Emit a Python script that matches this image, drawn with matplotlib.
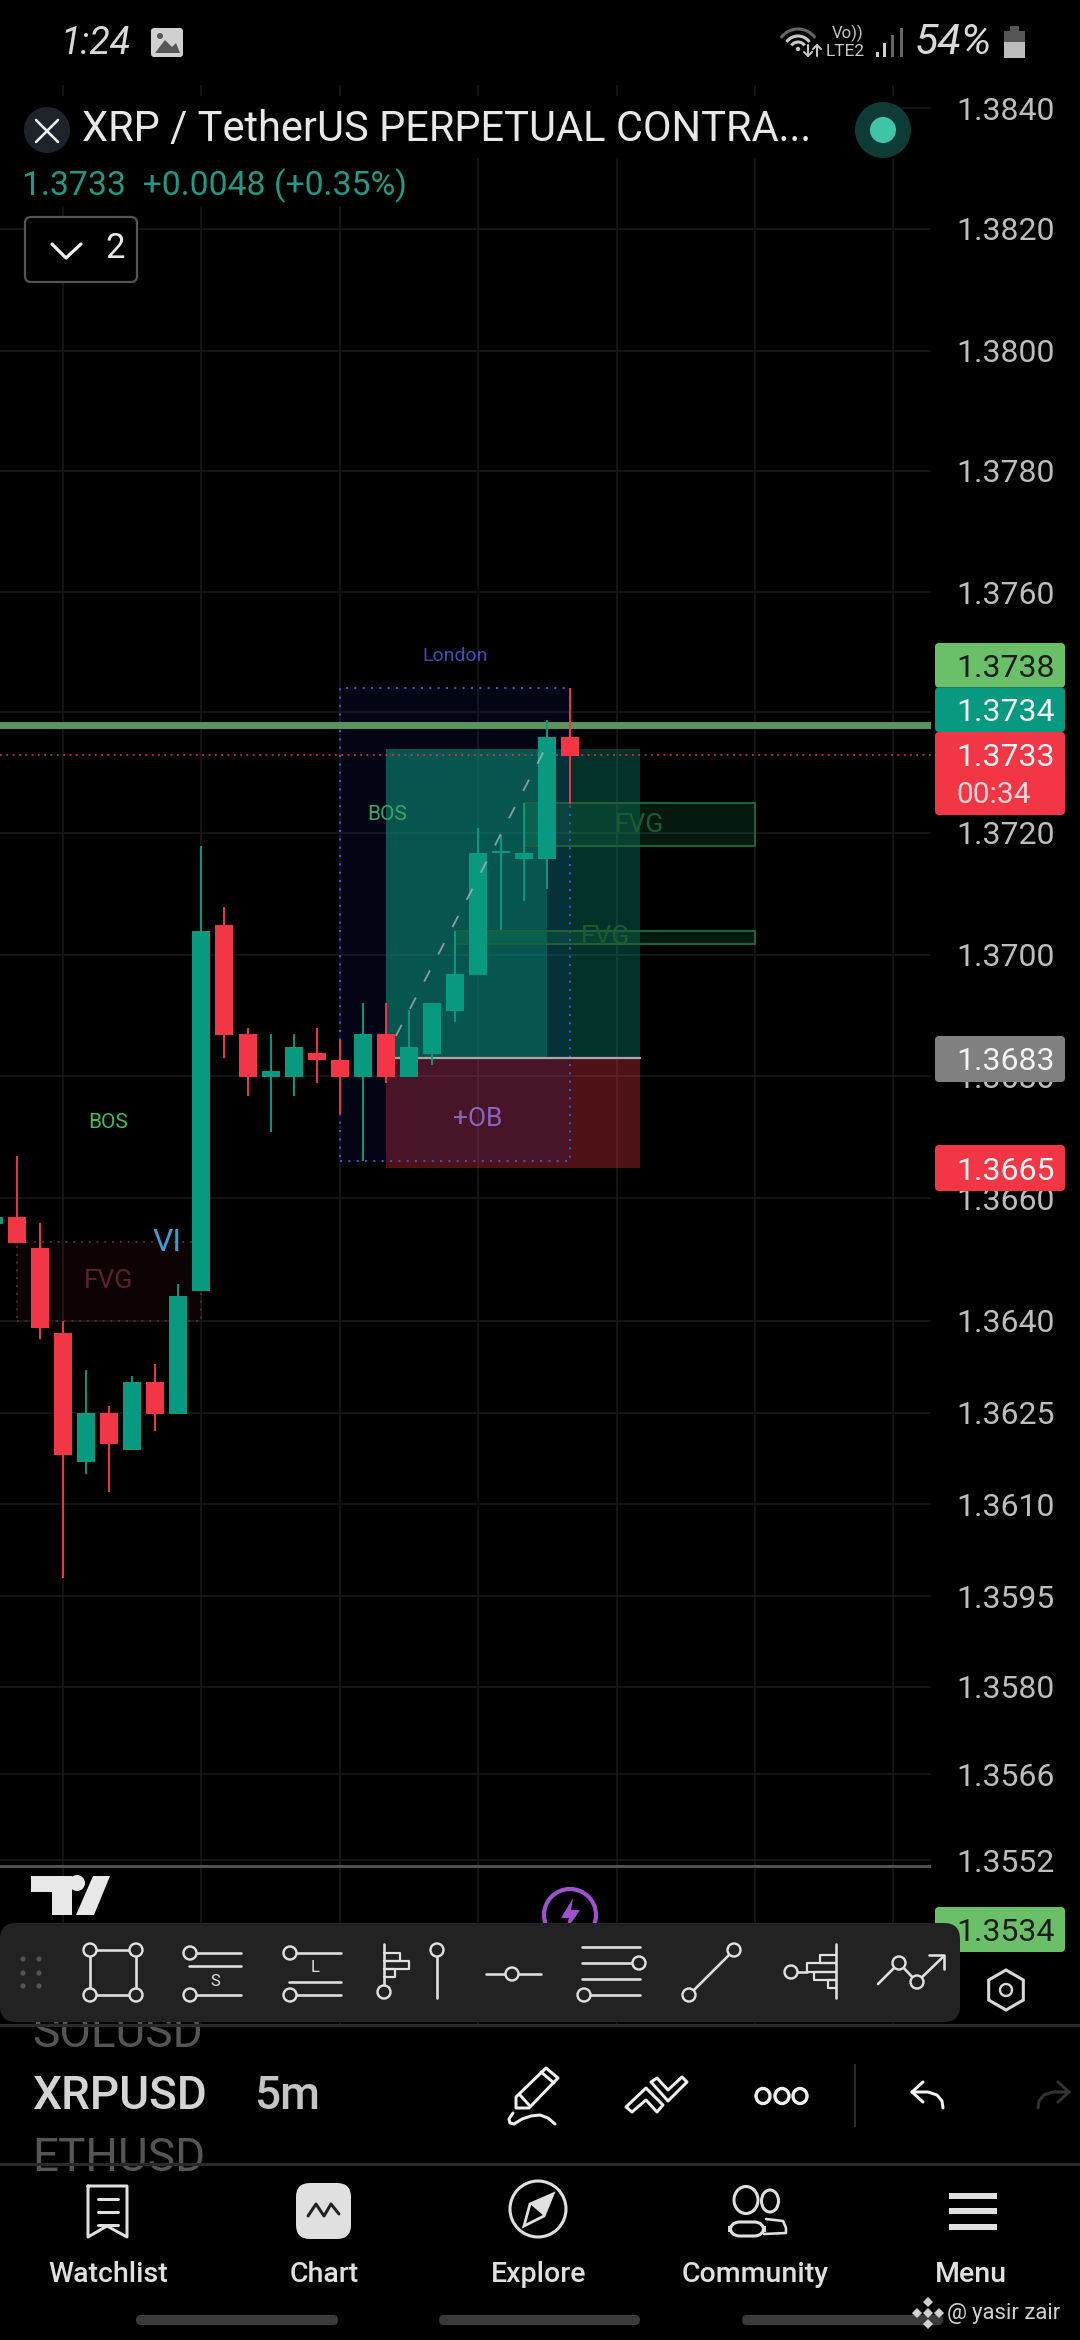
import numpy as np
import matplotlib
matplotlib.use('Agg')
from matplotlib import pyplot as plt
from matplotlib.patches import Rectangle, FancyBboxPatch, Circle, Ellipse, Polygon, Arc

plt.rcParams['font.family'] = ['Roboto', 'DejaVu Sans']

# candles, 5m, oldest first (x = bar number, bar 0 is the long red one)
bars = list(range(-3, 23))
opens = [1.36558, 1.36569, 1.36519, 1.36380, 1.36170, 1.36250, 1.36189, 1.36300, 1.36249,
         1.36449, 1.37049, 1.36869, 1.36798, 1.36798, 1.36838, 1.36826, 1.36798, 1.36869,
         1.36798, 1.36837, 1.36908, 1.36967, 1.37168, 1.37158, 1.37158, 1.37359]
highs = [1.36569, 1.36669, 1.36559, 1.36400, 1.36320, 1.36261, 1.36310, 1.36330, 1.36460,
         1.37179, 1.37079, 1.36880, 1.36869, 1.36869, 1.36880, 1.36860, 1.36920, 1.36920,
         1.36909, 1.36920, 1.37039, 1.37208, 1.37197, 1.37250, 1.37388, 1.37440]
lows = [1.36558, 1.36527, 1.36371, 1.35980, 1.36150, 1.36120, 1.36189, 1.36220, 1.36249,
        1.36449, 1.36829, 1.36768, 1.36708, 1.36768, 1.36789, 1.36737, 1.36661, 1.36789,
        1.36798, 1.36818, 1.36890, 1.36967, 1.37041, 1.37088, 1.37108, 1.37248]
closes = [1.36569, 1.36527, 1.36389, 1.36180, 1.36250, 1.36199, 1.36300, 1.36249, 1.36440,
          1.37039, 1.36868, 1.36798, 1.36808, 1.36848, 1.36827, 1.36798, 1.36869, 1.36798,
          1.36848, 1.36920, 1.36969, 1.37168, 1.37170, 1.37168, 1.37359, 1.37328]

tick_prices = [1.3840, 1.3820, 1.3800, 1.3780, 1.3760, 1.3740, 1.3720, 1.3700, 1.3680, 1.3660,
               1.3640, 1.3625, 1.3610, 1.3595, 1.3580, 1.3566, 1.3552]
# 1.3740 sits fully behind the price badges in the screenshot, so only its grid line shows
tick_labels = ['1.3840', '1.3820', '1.3800', '1.3780', '1.3760', '', '1.3720', '1.3700', '1.3680',
               '1.3660', '1.3640', '1.3625', '1.3610', '1.3595', '1.3580', '1.3566', '1.3552']
grid_bars = [0, 6, 12, 18, 24, 30, 36]

# price levels on the chart
entry_price = 1.3683
target_price = 1.3734
stop_price = 1.3665
green_level = 1.3738
last_price = 1.3733
london_low = 1.36661
london_high = 1.3744
fvg_up = (1.37178, 1.37249)
fvg_mid = (1.37018, 1.3704)
fvg_down = (1.3640, 1.36529)

# the screenshot's axis is not quite linear, so pin price to screen row at the labels
axis_prices = np.array([1.3551, 1.3552, 1.3566, 1.3580, 1.3595, 1.3610, 1.3625, 1.3640, 1.3660, 1.3680,
                        1.3700, 1.3720, 1.3760, 1.3780, 1.3800, 1.3820, 1.3840, 1.38438])
axis_rows = np.array([1866, 1860, 1774, 1687, 1596, 1504, 1413, 1321, 1198, 1076,
                      955, 833, 592, 471, 351, 229, 108, 85], dtype=float)

W, H = 1080, 2340
BG = '#000000'
TEAL = '#089981'
RED = '#f23645'
GRID = '#171717'
BAR = '#222222'

fig = plt.figure(figsize=(W / 100, H / 100), dpi=100, facecolor=BG)


def box(x0, y0, x1, y1):
    return [x0 / W, 1 - y1 / H, (x1 - x0) / W, (y1 - y0) / H]


ax = fig.add_axes(box(0, 85, 931, 1866), facecolor=BG)
ax.set_yscale('function', functions=(lambda p: np.interp(p, axis_prices, -axis_rows),
                                     lambda v: np.interp(v, -axis_rows, axis_prices)))
ax.set_xlim(-2.73, 37.63)
ax.set_ylim(axis_prices[0], axis_prices[-1])
ax.set_yticks(tick_prices, tick_labels)
ax.set_xticks(grid_bars)
ax.yaxis.tick_right()
ax.tick_params(axis='y', length=0, pad=18, labelsize=23, labelcolor='#bdbdbd')
ax.tick_params(axis='x', length=0, labelbottom=False)
ax.grid(True, color=GRID, lw=1.2, zorder=0)
ax.set_axisbelow(True)
for s in ax.spines.values():
    s.set_visible(False)

# lower pane under the chart, only the time grid shows
ax2 = fig.add_axes(box(0, 1866, 931, 2025), facecolor=BG, sharex=ax)
ax2.set_yticks([])
ax2.tick_params(axis='x', length=0, labelbottom=False)
ax2.grid(True, axis='x', color=GRID, lw=1.2)
for s in ax2.spines.values():
    s.set_visible(False)

# long position
ax.add_patch(Rectangle((14, entry_price), 11, target_price - entry_price, fc=TEAL, alpha=0.32, lw=0, zorder=1))
ax.add_patch(Rectangle((14, stop_price), 11, entry_price - stop_price, fc=RED, alpha=0.32, lw=0, zorder=1))

# london session box
ax.add_patch(Rectangle((12, london_low), 10, london_high - london_low, fc='#2138c8', alpha=0.1, lw=0, zorder=1.5))
ax.add_patch(Rectangle((12, london_low), 10, london_high - london_low, fc='none', ec='#4050d0', lw=1.5,
                       ls=(0, (1, 3)), zorder=1.6))

# part of the target already reached, sits over the session tint
ax.add_patch(Rectangle((14, entry_price), 7, target_price - entry_price, fc='#0aa07a', alpha=0.33, lw=0, zorder=1.65))
ax.plot([14, 25], [entry_price, entry_price], color='#a8a8a8', lw=1.6, zorder=2)
ax.plot([14.43, 20.85], [1.36866, 1.37336], color='#b8b8b8', lw=1.3, ls=(0, (7, 10)), alpha=0.75, zorder=4)

# fair value gaps
ax.add_patch(Rectangle((20, fvg_up[0]), 10, fvg_up[1] - fvg_up[0], fc='#22a05a', alpha=0.16, lw=0, zorder=1.7))
ax.add_patch(Rectangle((20, fvg_up[0]), 10, fvg_up[1] - fvg_up[0], fc='none', ec='#1d6039', lw=1.5, zorder=1.7))
ax.add_patch(Rectangle((17, fvg_mid[0]), 13, fvg_mid[1] - fvg_mid[0], fc='#22a05a', alpha=0.16, lw=0, zorder=1.7))
ax.add_patch(Rectangle((17, fvg_mid[0]), 13, fvg_mid[1] - fvg_mid[0], fc='none', ec='#1d6039', lw=1.5, zorder=1.7))
ax.add_patch(Rectangle((-2, fvg_down[0]), 8, fvg_down[1] - fvg_down[0], fc='#f23645', alpha=0.06, lw=0, zorder=1.7))
ax.add_patch(Rectangle((-2, fvg_down[0]), 8, fvg_down[1] - fvg_down[0], fc='none', ec='#5c2a2c', lw=1.4,
                       ls=(0, (1, 3)), zorder=1.7))

# levels
ax.axhline(green_level, color='#5b9460', lw=5, zorder=2.5)
ax.axhline(last_price, color=RED, lw=1.3, ls=(0, (1, 2.5)), alpha=0.85, zorder=2.5)

# candles
for i, o, h, l, c in zip(bars, opens, highs, lows, closes):
    col = TEAL if c >= o else RED
    ax.vlines(i, l, h, color=col, lw=1.4, zorder=3)
    ax.bar(i, abs(c - o), bottom=min(o, c), width=0.78, color=col, lw=0, zorder=3)

# labels on the chart
ax.text(17, 1.37493, 'London', color='#3f4fb5', fontsize=14, ha='center', va='center', zorder=5)
ax.text(14.04, 1.37231, 'BOS', color='#36a86a', fontsize=15, ha='center', va='center', zorder=5)
ax.text(1.95, 1.36723, 'BOS', color='#38c060', fontsize=15, ha='center', va='center', zorder=5)
ax.text(18, 1.3673, '+OB', color='#8a66c0', fontsize=19, ha='center', va='center', zorder=5)
ax.text(25, 1.37213, 'FVG', color='#1c5a34', fontsize=19, ha='center', va='center', zorder=5)
ax.text(23.5, 1.3703, 'FVG', color='#1c5a34', fontsize=19, ha='center', va='center', zorder=5)
ax.text(1.96, 1.36465, 'FVG', color='#5a2226', fontsize=19, ha='center', va='center', zorder=5)
ax.text(4.5, 1.36527, 'VI', color='#3d9fd0', fontsize=23, ha='center', va='center', zorder=5)

# screen furniture, everything below is in screen pixels
ui = fig.add_axes([0, 0, 1, 1], facecolor='none', zorder=5)
ui.set_xlim(0, W)
ui.set_ylim(H, 0)
ui.axis('off')
PX = 0.72


def rect(x0, y0, x1, y1, fc, z=2, **kw):
    ui.add_patch(Rectangle((x0, y0), x1 - x0, y1 - y0, fc=fc, lw=0, zorder=z, **kw))


def rounded(x0, y0, x1, y1, r, fc, z=2, ec='none', lw=0):
    ui.add_patch(FancyBboxPatch((x0 + r, y0 + r), x1 - x0 - 2 * r, y1 - y0 - 2 * r,
                                boxstyle='round,pad=%g,rounding_size=%g' % (r, r), fc=fc, ec=ec, lw=lw, zorder=z))


def line(xs, ys, c='#e0e0e0', w=2.6, z=6, **kw):
    ui.plot(xs, ys, color=c, lw=w * PX, zorder=z, solid_capstyle='round', solid_joinstyle='round', **kw)


def ring(x, y, r=6.5, c='#e0e0e0', w=2.4, fc=BAR, z=7):
    ui.add_patch(Circle((x, y), r, fc=fc, ec=c, lw=w * PX, zorder=z))


def outline(pts, c='#f0f0f0', w=3):
    ui.add_patch(Polygon(pts, fc='none', ec=c, lw=w * PX, joinstyle='round', zorder=6))


def label(x, y, s, c='#e0e0e0', size=20, ha='center', z=6, **kw):
    return ui.text(x, y, s, color=c, fontsize=size, ha=ha, va='center', zorder=z, **kw)


# title block hides the grid behind it
rect(0, 96, 900, 158, BG, z=1)
rect(10, 158, 412, 206, BG, z=1)
ui.add_patch(Circle((47, 130), 23, fc='#1e222a', lw=0, zorder=3))
line([36, 58], [120, 142], c='#f0f0f0', w=2.6)
line([58, 36], [120, 142], c='#f0f0f0', w=2.6)
label(82, 130, 'XRP / TetherUS PERPETUAL CONTRA...', c='#e8e8e8', size=30, ha='left')
ui.add_patch(Circle((883, 130), 28, fc='#0f3b36', lw=0, zorder=3))
ui.add_patch(Circle((883, 130), 13, fc='#3fc4a8', lw=0, zorder=4))
label(22, 186, '1.3733  +0.0048 (+0.35%)', c='#1f9a84', size=24.3, ha='left')
rounded(25, 217, 137, 282, 6, BG, z=3, ec='#555555', lw=1.6)
line([52, 66, 81], [244, 258, 244], c='#f0f0f0', w=3.2)
label(115, 249, '2', c='#e8e8e8', size=25)

# status bar
label(60, 43, '1:24', c='#d8d8d8', size=27, ha='left', style='italic')
rounded(151, 28, 183, 57, 3, '#d0d0d0', z=3)
ui.add_patch(Polygon([(155, 53), (165, 40), (172, 47), (176, 43), (180, 53)], fc='#555555', lw=0, zorder=4))
ui.add_patch(Circle((160, 36), 3, fc='#555555', lw=0, zorder=4))
for r, ac in zip((8, 14, 21), ('#c8c8c8', '#c8c8c8', '#666666')):
    ui.add_patch(Arc((798, 50), 2 * r, 2 * r, theta1=215, theta2=325, ec=ac, lw=2.2, zorder=4))
ui.add_patch(Circle((798, 49), 2.2, fc='#c8c8c8', lw=0, zorder=4))
line([808, 808], [45, 56], c='#c8c8c8', w=2)
line([804, 808, 812], [52, 56, 52], c='#c8c8c8', w=2)
line([817, 817], [45, 56], c='#c8c8c8', w=2)
line([813, 817, 821], [49, 45, 49], c='#c8c8c8', w=2)
label(832, 33, 'Vo))', c='#c8c8c8', size=12, ha='left')
label(826, 51, 'LTE2', c='#c8c8c8', size=12.5, ha='left')
for bx, btop, bc in zip([876, 883, 891, 900], [52, 43, 35, 28], ['#d0d0d0', '#d0d0d0', '#666666', '#666666']):
    rect(bx, btop, bx + 3, 57, bc, z=4)
label(915, 43, '54%', c='#d8d8d8', size=31, ha='left', style='italic')
rect(1004, 31, 1025, 42, '#555555', z=4)
rect(1004, 42, 1025, 58, '#bdbdbd', z=4)
rect(1010, 26, 1019, 31, '#555555', z=4)

# price badges
badges = [(643, 687.5, '#6abf69', '1.3738', '#1c1c1c'), (687.5, 732, TEAL, '1.3734', '#f0f0f0'),
          (1036, 1082, '#808080', '1.3683', '#f4f4f4'), (1145, 1191, RED, '1.3665', '#f4f4f4'),
          (1907, 1952, '#6abf69', '1.3534', '#1c1c1c')]
for y0, y1, fc, s, tc in badges:
    rounded(935, y0, 1065, y1, 4, fc, z=2)
    label(956, (y0 + y1) / 2 + 3, s, c=tc, size=23, ha='left', z=3)
rounded(935, 732, 1065, 815, 4, RED, z=2)
label(956, 758, '1.3733', c='#f4f4f4', size=23, ha='left', z=3)
label(956, 795, '00:34', c='#f0d8da', size=21.5, ha='left', z=3)

# pane line, logo, alert
rect(0, 1865, 931, 1867.5, '#505050', z=2)
ui.add_patch(Polygon([(31, 1876), (72, 1876), (72, 1915), (52, 1915), (52, 1892), (31, 1892)], fc='#e8e8e8', lw=0, zorder=3))
ui.add_patch(Polygon([(93, 1876), (110, 1876), (94, 1915), (76, 1915)], fc='#e8e8e8', lw=0, zorder=3))
ui.add_patch(Circle((77, 1883), 8, fc='#e8e8e8', lw=0, zorder=3))
ui.add_patch(Circle((570, 1915), 26, fc=BG, ec='#a050d0', lw=3, zorder=3))
ui.add_patch(Polygon([(573, 1898), (561, 1918), (569, 1918), (565, 1932), (580, 1910), (571, 1910)], fc='#a050d0', lw=0, zorder=3))

# drawing toolbar
rounded(0, 1923, 960, 2022, 16, BAR, z=4)
for dx in (23, 39):
    for dy in (1959, 1973, 1986):
        ui.add_patch(Circle((dx, dy), 2.6, fc='#555555', lw=0, zorder=6))
line([90, 136, 136, 90, 90], [1950, 1950, 1995, 1995, 1950])
for cx, cy in [(90, 1950), (136, 1950), (90, 1995), (136, 1995)]:
    ring(cx, cy)
line([190, 241], [1953, 1953]); line([189, 241], [1966, 1966]); line([190, 241], [1995, 1995])
ring(190, 1953); ring(190, 1995)
label(215, 1981, 'S', size=12)
line([290, 341], [1953, 1953]); line([289, 341], [1982, 1982]); line([290, 341], [1995, 1995])
ring(290, 1953); ring(290, 1995)
label(315, 1968, 'L', size=12)
line([384, 384], [1944, 1987])
ring(384, 1992)
for bx, by0, by1 in [(400, 1953, 1961), (409, 1961, 1969), (395, 1969, 1977)]:
    line([384, bx, bx, 384], [by0, by0, by1, by1], w=2.2)
line([437, 437], [1956, 1998]); ring(437, 1950)
line([486, 541], [1974, 1974]); ring(512, 1974)
line([582, 640], [1947, 1947]); line([582, 640], [1963, 1963]); line([582, 640], [1979, 1979]); line([584, 640], [1995, 1995])
ring(639, 1963); ring(584, 1995)
line([689, 734], [1995, 1950]); ring(689, 1995); ring(734, 1950)
line([836, 836], [1944, 1998])
for bx, by0, by1 in [(820, 1955, 1963), (807, 1963, 1972), (814, 1972, 1980), (828, 1980, 1988)]:
    line([836, bx, bx, 836], [by0, by0, by1, by1], w=2.2)
line([797, 807], [1972, 1972]); ring(791, 1972)
line([878, 899, 917, 944], [1984, 1963, 1982, 1956])
line([929, 944, 944], [1955, 1955, 1969])
ring(899, 1963); ring(917, 1982)
ui.add_patch(Polygon([(1006 + 20 * np.cos(a), 1990 + 20 * np.sin(a)) for a in np.deg2rad(np.arange(30, 390, 60))],
                     fc='none', ec='#d8d8d8', lw=2.2, zorder=6))
ring(1006, 1990, r=6, c='#d8d8d8', fc=BG)

# symbol strip
rect(0, 2024, W, 2027, '#2a2a2a', z=3)
rect(0, 2163, W, 2166, '#2a2a2a', z=3)
sol = label(32, 2034, 'SOLUSD', c='#555555', size=33, ha='left', z=2)
sol.set_clip_path(Rectangle((0, 2027), W, 60, transform=ui.transData))
eth = label(32, 2158, 'ETHUSD', c='#555555', size=33, ha='left', z=2)
eth.set_clip_path(Rectangle((0, 2120), W, 43, transform=ui.transData))
label(32, 2096, 'XRPUSD', c='#d4d4d4', size=33, ha='left', fontweight='medium')
label(255, 2096, '5m', c='#c4c4c4', size=33, ha='left', fontweight='medium')
# pencil
outline([(516, 2108), (516, 2097), (546, 2068), (558, 2078), (529, 2108)])
line([541, 554], [2072, 2083], c='#f0f0f0', w=3)
line([520, 529], [2095, 2105], c='#f0f0f0', w=3)
line([513, 509, 510, 514, 522, 531, 540, 548, 555], [2113, 2119, 2123, 2124, 2119, 2116, 2115, 2118, 2124], c='#f0f0f0', w=3)
# stay-in-drawing chevrons
outline([(626, 2107), (646, 2088), (663, 2105), (657, 2112), (646, 2100), (632, 2112)])
outline([(651, 2082), (657, 2078), (668, 2090), (682, 2077), (687, 2082), (668, 2101)])
for ex in (763, 782, 800):
    ui.add_patch(Ellipse((ex, 2096), 14, 15, fc='none', ec='#f0f0f0', lw=2.4, zorder=6))
rect(854, 2064, 856, 2127, '#2a2a2a', z=3)
line([923, 912, 923], [2082, 2092, 2102], c='#f0f0f0', w=3)
line([912, 928, 937, 942, 943], [2092, 2092, 2095, 2101, 2108], c='#f0f0f0', w=3)
line([1058, 1069, 1058], [2082, 2092, 2102], c='#333333', w=3)
line([1069, 1053, 1044, 1039, 1038], [2092, 2092, 2095, 2101, 2108], c='#333333', w=3)

# bottom navigation
for nx, s in zip([108, 324, 539, 755, 971], ['Watchlist', 'Chart', 'Explore', 'Community', 'Menu']):
    label(nx, 2274, s, c='#e0e0e0', size=20.5, fontweight='medium')
line([88, 127, 127, 107, 88, 88], [2186, 2186, 2237, 2226, 2237, 2186], w=3)
for ly in (2199, 2212, 2225):
    line([98, 118], [ly, ly], w=3)
rounded(296, 2183, 351, 2239, 14, '#e0e0e0', z=5)
line([308, 316, 324, 331, 339], [2216, 2204, 2216, 2204, 2214], c='#222222', w=3, z=7)
ui.add_patch(Circle((538, 2209), 28, fc='none', ec='#e0e0e0', lw=2.2, zorder=6))
ui.add_patch(Polygon([(524, 2226), (530, 2204), (553, 2194), (544, 2216)], fc='none', ec='#e0e0e0', lw=2, zorder=6))
ui.add_patch(Polygon([(530, 2204), (553, 2194), (544, 2216)], fc='#e0e0e0', lw=0, zorder=6))
ui.add_patch(Ellipse((746, 2200), 24, 27, fc='none', ec='#e0e0e0', lw=2.2, zorder=6))
ui.add_patch(Ellipse((770, 2201), 17, 22, fc='none', ec='#e0e0e0', lw=2.2, zorder=6))
ui.add_patch(FancyBboxPatch((732, 2224), 30, 10, boxstyle='round,pad=2,rounding_size=10', fc=BG, ec='#e0e0e0', lw=2.2, zorder=6))
line([766, 783, 786, 786, 764], [2219, 2221, 2228, 2233, 2234], w=2.6, z=5)
for my in (2196, 2211, 2227):
    rect(949, my - 2.6, 997, my + 2.6, '#e0e0e0', z=6)

# gesture bars and watermark
for x0, x1 in [(136, 338), (439, 640), (742, 943)]:
    rounded(x0, 2315, x1, 2325, 5, '#3a3a3a', z=2)
for dx, dy in [(0, -11), (-11, 0), (11, 0), (0, 11), (0, 0)]:
    ui.add_patch(Polygon([(928 + dx, 2313 + dy - 5), (928 + dx + 5, 2313 + dy), (928 + dx, 2313 + dy + 5),
                          (928 + dx - 5, 2313 + dy)], fc='#d0d0d0', lw=0, zorder=6))
label(947, 2314, '@', c='#d0d0d0', size=16, ha='left')
label(972, 2314, 'yasir zair', c='#d0d0d0', size=16, ha='left')

fig.savefig('out.png', dpi=100, facecolor=BG)
